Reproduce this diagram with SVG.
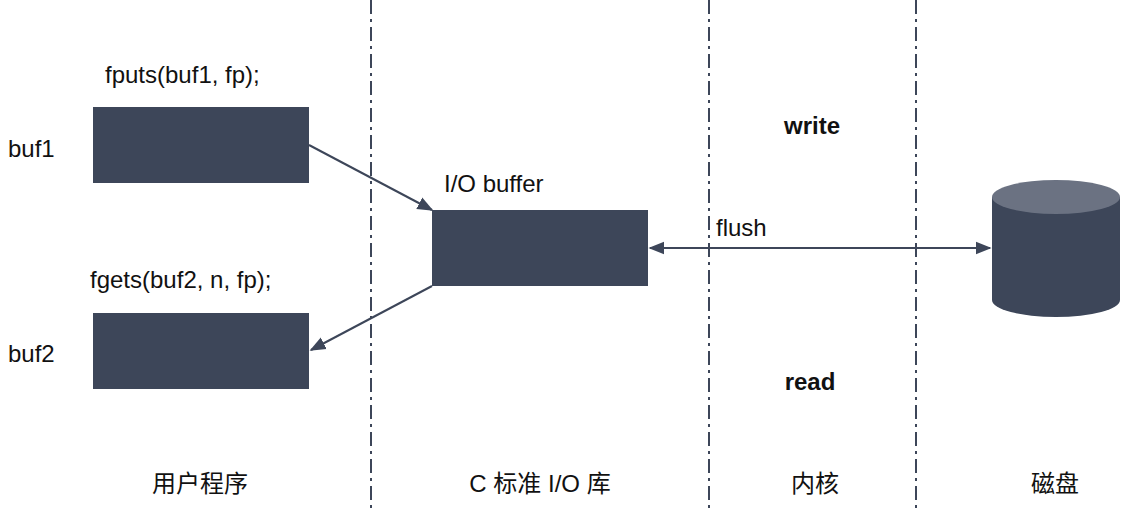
<svg xmlns="http://www.w3.org/2000/svg" width="1136" height="513" viewBox="0 0 1136 513">
<style>
text{font-family:"Liberation Sans","Noto Sans CJK SC",sans-serif;font-size:24px;fill:#111}
.box{fill:#3d4659}
.sep{stroke:#3d4659;stroke-width:2;stroke-dasharray:14 5 3 5}
.c{stroke:#3d4659;stroke-width:2;fill:none}
</style>
<defs><marker id="a" viewBox="0 0 10 10" refX="9" refY="5" markerWidth="8" markerHeight="8" orient="auto-start-reverse"><path d="M0,1 L10,5 L0,9 z" fill="#3d4659"/></marker></defs>
<rect width="1136" height="513" fill="#fff"/>
<g id="separators">
<line class="sep" x1="371" y1="0" x2="371" y2="513"/>
<line class="sep" x1="709" y1="0" x2="709" y2="513"/>
<line class="sep" x1="916" y1="0" x2="916" y2="513"/>
</g>
<g id="buf1"><rect class="box" x="93" y="107" width="216" height="76"/><text x="8" y="157">buf1</text><text x="105" y="83">fputs(buf1, fp);</text></g>
<g id="buf2"><rect class="box" x="93" y="313" width="216" height="76"/><text x="8" y="362">buf2</text><text x="90" y="288">fgets(buf2, n, fp);</text></g>
<g id="iobuf"><rect class="box" x="432" y="210" width="216" height="76"/><text x="444" y="192">I/O buffer</text></g>
<g id="disk"><path class="box" d="M992,197 V300 A64,17 0 0 0 1120,300 V197 Z"/><ellipse cx="1056" cy="197" rx="64" ry="17" fill="#6b7282"/></g>
<g id="connectors">
<line class="c" x1="309" y1="145" x2="432" y2="210" marker-end="url(#a)"/>
<line class="c" x1="432" y1="286" x2="311" y2="350" marker-end="url(#a)"/>
<line class="c" x1="650" y1="248" x2="990" y2="248" marker-start="url(#a)" marker-end="url(#a)"/>
</g>
<text x="716" y="236">flush</text>
<text x="812" y="134" text-anchor="middle" font-weight="bold">write</text>
<text x="810" y="390" text-anchor="middle" font-weight="bold">read</text>
<g text-anchor="middle">
<text x="200" y="492">用户程序</text>
<text x="540" y="492">C 标准 I/O 库</text>
<text x="815" y="492">内核</text>
<text x="1055" y="492">磁盘</text>
</g>
</svg>
